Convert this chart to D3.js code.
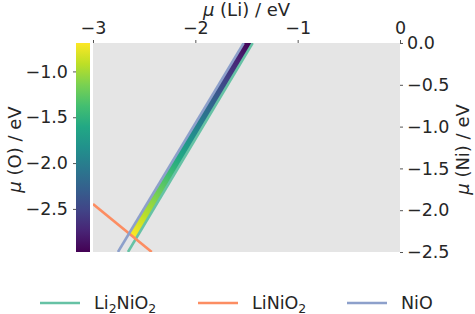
<!DOCTYPE html>
<html>
<head>
<meta charset="utf-8">
<script src="https://cdn.jsdelivr.net/npm/d3@7"></script>
<style>
  html, body { margin: 0; padding: 0; background: #fff; }
  svg { display: block; font-family: "DejaVu Sans", sans-serif; }
  .tick text { fill: #262626; }
</style>
</head>
<body>
<svg id="chart" width="475" height="314"></svg>
<script>
// axis ticks
const muLiTicks = [-3, -2, -1, 0];
const muNiTicks = [0, -0.5, -1, -1.5, -2, -2.5];
const muOTicks = [-1, -1.5, -2, -2.5];

// axis ranges
const muLiRange = [-3, 0];
const muNiRange = [-2.5, 0];
const muORange = [-2.97, -0.69];

// phase boundary lines, [mu(Li), mu(Ni)] end points
const phases = ["Li2NiO2", "LiNiO2", "NiO"];
const phaseColors = ["#66c2a5", "#fc8d62", "#8da0cb"];
const li2nio2Line = [[-2.658, -2.5], [-1.44, 0]];
const linio2Line = [[-3, -1.926], [-2.426, -2.5]];
const nioLine = [[-2.756, -2.5], [-1.527, 0]];

// stable region corners and mu(O) at its two far ends (top right, bottom left)
const stableRegion = [[-1.527, 0], [-1.44, 0], [-2.583, -2.343], [-2.649, -2.277]];
const regionMuO = [-2.97, -0.69];

const margin = { top: 43, right: 75, bottom: 62, left: 93 };
const plotW = 400 - margin.left;
const plotH = 252 - margin.top;

const svg = d3.select("#chart");

const x = d3.scaleLinear().domain(muLiRange).range([margin.left, margin.left + plotW]);
const y = d3.scaleLinear().domain(muNiRange).range([margin.top + plotH, margin.top]);
const yO = d3.scaleLinear().domain(muORange).range([margin.top + plotH, margin.top]);
const color = d3.scaleSequential(d3.interpolateViridis).domain(muORange);

const defs = svg.append("defs");
defs.append("clipPath").attr("id", "plot-clip")
  .append("rect")
  .attr("x", margin.left).attr("y", margin.top)
  .attr("width", plotW).attr("height", plotH);

// plot background
svg.append("rect")
  .attr("x", margin.left).attr("y", margin.top)
  .attr("width", plotW).attr("height", plotH)
  .attr("fill", "#e5e5e5");

// gradient for the stable region, from lowest to highest mu(O)
const stops = d3.range(0, 1.001, 0.1);
const regionGrad = defs.append("linearGradient")
  .attr("id", "region-grad")
  .attr("gradientUnits", "userSpaceOnUse")
  .attr("x1", x(stableRegion[1][0])).attr("y1", y(stableRegion[1][1]))
  .attr("x2", x(stableRegion[3][0])).attr("y2", y(stableRegion[3][1]));
regionGrad.selectAll("stop").data(stops).join("stop")
  .attr("offset", (d) => d)
  .attr("stop-color", (d) => color(regionMuO[0] + d * (regionMuO[1] - regionMuO[0])));

const plot = svg.append("g").attr("clip-path", "url(#plot-clip)");

plot.append("path")
  .datum(stableRegion)
  .attr("d", d3.line().x((d) => x(d[0])).y((d) => y(d[1])).curve(d3.curveLinearClosed))
  .attr("fill", "url(#region-grad)");

const lines = [li2nio2Line, linio2Line, nioLine];
lines.forEach((pts, i) => {
  plot.append("path")
    .datum(pts)
    .attr("d", d3.line().x((d) => x(d[0])).y((d) => y(d[1])))
    .attr("fill", "none")
    .attr("stroke", phaseColors[i])
    .attr("stroke-width", 2.6);
});

// top axis, mu(Li)
const topAxis = svg.append("g")
  .attr("transform", `translate(0,${margin.top})`)
  .call(d3.axisTop(x).tickValues(muLiTicks).tickFormat(d3.format("d")).tickSize(3).tickPadding(6));

// right axis, mu(Ni)
const rightAxis = svg.append("g")
  .attr("transform", `translate(${margin.left + plotW},0)`)
  .call(d3.axisRight(y).tickValues(muNiTicks).tickFormat(d3.format(".1f")).tickSize(3).tickPadding(4));

// colorbar for mu(O)
const cbX = 76, cbW = 14;
const cbGrad = defs.append("linearGradient")
  .attr("id", "cb-grad")
  .attr("x1", 0).attr("y1", 1).attr("x2", 0).attr("y2", 0);
cbGrad.selectAll("stop").data(stops).join("stop")
  .attr("offset", (d) => d)
  .attr("stop-color", (d) => color(muORange[0] + d * (muORange[1] - muORange[0])));
svg.append("rect")
  .attr("x", cbX).attr("y", margin.top)
  .attr("width", cbW).attr("height", plotH)
  .attr("fill", "url(#cb-grad)");

const cbAxis = svg.append("g")
  .attr("transform", `translate(${cbX},0)`)
  .call(d3.axisLeft(yO).tickValues(muOTicks).tickFormat(d3.format(".1f")).tickSize(3).tickPadding(5));

[topAxis, rightAxis, cbAxis].forEach((ax) => {
  ax.select(".domain").remove();
  ax.selectAll(".tick line").attr("stroke", "#555");
  ax.selectAll(".tick text").attr("font-size", 17.5).attr("font-family", "DejaVu Sans");
});

// axis labels
function muLabel(sel, el) {
  sel.append("tspan").attr("font-style", "italic").text("\u03bc");
  sel.append("tspan").text(` (${el}) / eV`);
}
svg.append("text")
  .attr("x", margin.left + plotW / 2).attr("y", 16)
  .attr("text-anchor", "middle").attr("font-size", 18).attr("fill", "#262626")
  .call(muLabel, "Li");
svg.append("text")
  .attr("transform", `translate(21,${margin.top + plotH / 2 + 2}) rotate(-90)`)
  .attr("text-anchor", "middle").attr("font-size", 18).attr("fill", "#262626")
  .call(muLabel, "O");
svg.append("text")
  .attr("transform", `translate(469,${margin.top + plotH / 2 + 2}) rotate(-90)`)
  .attr("text-anchor", "middle").attr("font-size", 18).attr("fill", "#262626")
  .call(muLabel, "Ni");

// legend
const legendX = [40, 198, 347];
const legend = svg.append("g");
phases.forEach((name, i) => {
  const g = legend.append("g").attr("transform", `translate(${legendX[i]},303)`);
  g.append("line")
    .attr("x1", 0).attr("x2", 40)
    .attr("stroke", phaseColors[i]).attr("stroke-width", 2.6);
  const t = g.append("text")
    .attr("x", 54).attr("y", 6)
    .attr("font-size", 17.5).attr("fill", "#262626");
  // element symbols, with digits set as subscripts
  let shift = 0;
  name.match(/[A-Z][a-z]?|\d+/g).forEach((part) => {
    const sub = /\d/.test(part);
    const dy = (sub ? 3.5 : 0) - shift;
    shift = sub ? 3.5 : 0;
    t.append("tspan")
      .attr("dy", dy)
      .attr("font-size", sub ? 12.5 : null)
      .text(part);
  });
});
</script>
</body>
</html>
